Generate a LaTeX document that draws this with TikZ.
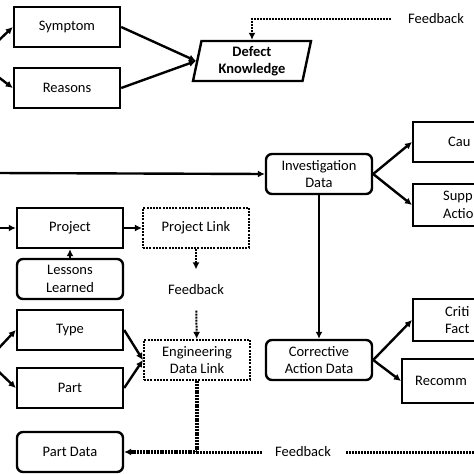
\documentclass[tikz,border=0pt]{standalone}
\usepackage{fontspec}
\setmainfont{Carlito}
\usetikzlibrary{shapes.geometric,arrows.meta}

\begin{document}
\begin{tikzpicture}[x=1pt,y=-1pt,>={Latex[length=7pt,width=7pt]},
  box/.style={draw,line width=2.4pt,minimum width=106pt,minimum height=40pt,
    inner sep=2pt,align=center,font=\fontsize{14.5}{17.5}\selectfont},
  rbox/.style={box,rounded corners=6pt},
  linkbox/.style={box,line width=2.2pt,dash pattern=on 2pt off 1.2pt},
  cutbox/.style={box,anchor=west,align=left,text width=60pt,minimum width=80pt},
  arr/.style={->,line width=2.4pt},
  fb/.style={line width=2pt,dash pattern=on 2pt off 1pt},
  heavyfb/.style={line width=4.5pt,dash pattern=on 2pt off 0.8pt},
  note/.style={font=\fontsize{14.5}{17}\selectfont}]
  \useasboundingbox (0,0) rectangle (474,474);
  \clip (0,0) rectangle (474,474);

  % defect branch
  \node[box] (symptom) at (67,27) {Symptom};
  \node[box] (reasons) at (67,88) {Reasons};
  \node[box,trapezium,trapezium left angle=76,trapezium right angle=104,
        trapezium stretches body,minimum width=118pt,minimum height=40pt,
        font=\fontsize{14.5}{17.5}\selectfont\bfseries] (defect) at (252,61) {Defect\\Knowledge};
  \node[note] (fbtop) at (436,19) {Feedback};
  \coordinate (in1) at (-3,42);
  \coordinate (in2) at (-3,76);
  \draw[arr] (in1) -- (symptom.west);
  \draw[arr] (in2) -- (reasons.west);
  \draw[arr] (symptom.east) -- (defect.west);
  \draw[arr] (reasons.east) -- (defect.west);
  \draw[fb,->,shorten <=14pt] (fbtop.west) -| (defect.north);

  % investigation and corrective action
  \node[rbox] (invest) at (319,174) {Investigation\\Data};
  \node[rbox] (corrective) at (319,360) {Corrective\\Action Data};
  \node[cutbox,inner xsep=35pt] (causes) at (412,142) {Cau};
  \node[cutbox,inner xsep=30pt,minimum height=42pt] (support) at (412,205) {Supp\\Actio};
  \node[cutbox,inner xsep=32pt,minimum height=42pt] (critical) at (412,320) {Criti\\Fact};
  \node[cutbox,inner xsep=13pt,minimum height=44pt] (recommend) at (401,381) {Recomm};
  \coordinate (in3) at (-3,173);
  \draw[arr] (in3) -- (invest.west);
  \draw[arr] (invest.east) -- (causes.west);
  \draw[arr] (invest.east) -- (support.west);
  \draw[arr] (invest) -- (corrective);
  \draw[arr] (corrective.east) -- (critical.west);
  \draw[arr] (corrective.east) -- (recommend.west);

  % project and engineering data
  \node[box] (project) at (70,228) {Project};
  \node[rbox] (lessons) at (70,279) {Lessons\\Learned};
  \node[linkbox] (projlink) at (196,228) {Project Link};
  \node[note] (fbmid) at (196,290) {Feedback};
  \node[box] (type) at (70,330) {Type};
  \node[box] (part) at (70,388) {Part};
  \node[linkbox] (edl) at (197,360) {Engineering\\Data Link};
  \node[rbox] (partdata) at (70,452) {Part Data};
  \node[note] (fbbot) at (303,452) {Feedback};
  \coordinate (in4) at (-3,228);
  \coordinate (in5) at (-3,350);
  \coordinate (in6) at (-3,370);
  \coordinate (jn) at (edl.south |- partdata.east);
  \coordinate (out1) at (480,452);
  \draw[arr] (in4) -- (project.west);
  \draw[arr] (in5) -- (type.west);
  \draw[arr] (in6) -- (part.west);
  \draw[arr] (lessons) -- (project);
  \draw[arr] (project) -- (projlink);
  \draw[arr] (type.east) -- (edl.west);
  \draw[arr] (part.east) -- (edl.west);
  \draw[fb,->,shorten >=12pt] (projlink) -- (fbmid);
  \draw[fb,->,shorten <=12pt] (fbmid) -- (edl);
  \draw[heavyfb,->] (edl.south) |- (partdata.east);
  \draw[fb,line width=3pt,shorten <=10pt] (fbbot.west) -- (jn);
  \draw[fb,line width=3pt,shorten <=12pt] (fbbot.east) -- (out1);
\end{tikzpicture}
\end{document}
